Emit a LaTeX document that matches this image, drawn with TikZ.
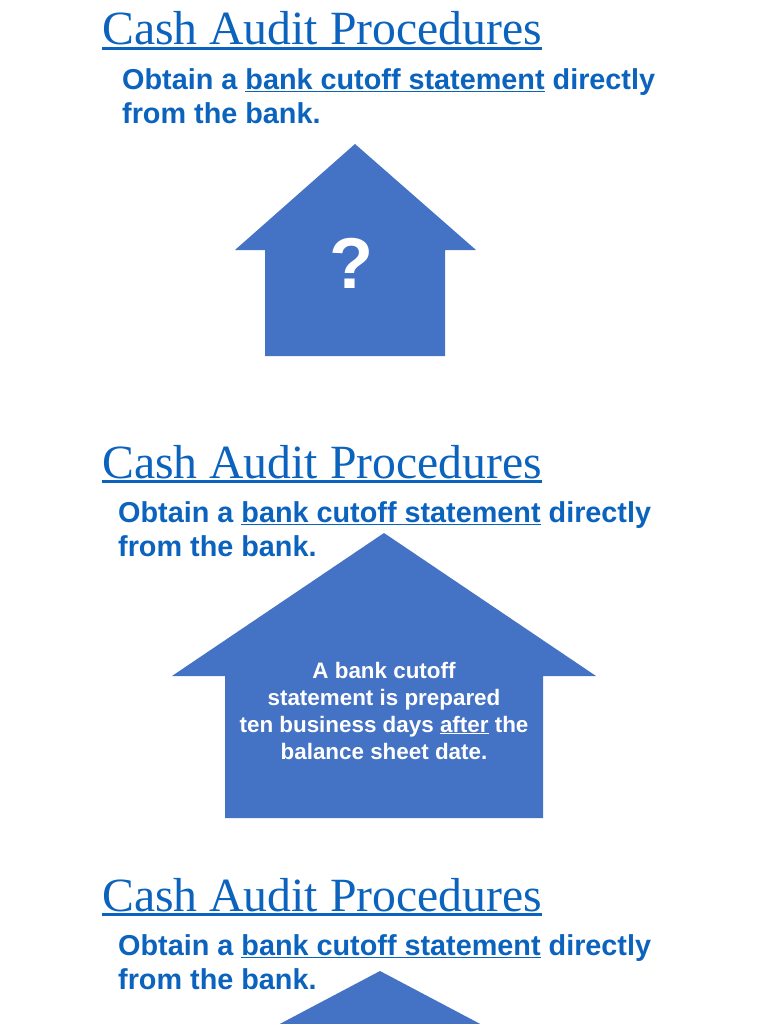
\documentclass[tikz,border=0pt]{standalone}
\usepackage{fontspec}
\setmainfont{Liberation Sans}
\newfontfamily\titlefont{Liberation Serif}
\definecolor{housefill}{HTML}{4472C4}
\definecolor{headblue}{HTML}{0B63BD}
\newsavebox{\ulinebox}
\newcommand{\ulined}[1]{\sbox{\ulinebox}{#1}\rlap{\rule[-0.11em]{\wd\ulinebox}{0.06em}}\usebox{\ulinebox}}
\newcommand{\headline}{\ulined{Cash Audit Procedures}}
\newcommand{\obtaintext}{Obtain a \ulined{bank cutoff statement} directly\\from the bank.}
\begin{document}
\begin{tikzpicture}
    [
    x=1pt,y=-1pt,
    heading/.style={anchor=base west,inner sep=0pt,text=headblue,font=\titlefont\fontsize{47.7}{50}\selectfont},
    subtext/.style={anchor=north west,inner sep=0pt,align=left,text=headblue,font=\bfseries\fontsize{28.8}{34}\selectfont},
    housetext/.style={inner sep=0pt,align=center,text=white,font=\bfseries\fontsize{22.4}{27}\selectfont},
    house/.style={fill=housefill,draw=none}
    ]
    \useasboundingbox (0,0) rectangle (768,1024);
    \clip (0,0) rectangle (768,1024);
    % first slide
    \node (title1) at (102,45) [heading] {\headline};
    \node (sub1) at (122,68) [subtext] {\obtaintext};
    \fill [house] (355,144) -- (476,250) -- (445,250) -- (445,356) -- (265,356) -- (265,250) -- (235,250) -- cycle;
    \node (mark1) at (351,263) [inner sep=0pt,text=white,font=\bfseries\fontsize{72}{72}\selectfont] {?};
    % second slide
    \node (title2) at (102,478) [heading] {\headline};
    \node (sub2) at (118,501) [subtext] {\obtaintext};
    \fill [house] (384,533) -- (596,676) -- (543,676) -- (543,818) -- (225,818) -- (225,676) -- (172,676) -- cycle;
    \node (body2) at (384,710.5) [housetext] {A bank cutoff\\statement is prepared\\ten business days \ulined{after} the\\balance sheet date.};
    % third slide
    \node (title3) at (102,911) [heading] {\headline};
    \node (sub3) at (118,934) [subtext] {\obtaintext};
    \fill [house] (380,971) -- (592,1083) -- (539,1083) -- (539,1256) -- (221,1256) -- (221,1083) -- (168,1083) -- cycle;
\end{tikzpicture}
\end{document}
